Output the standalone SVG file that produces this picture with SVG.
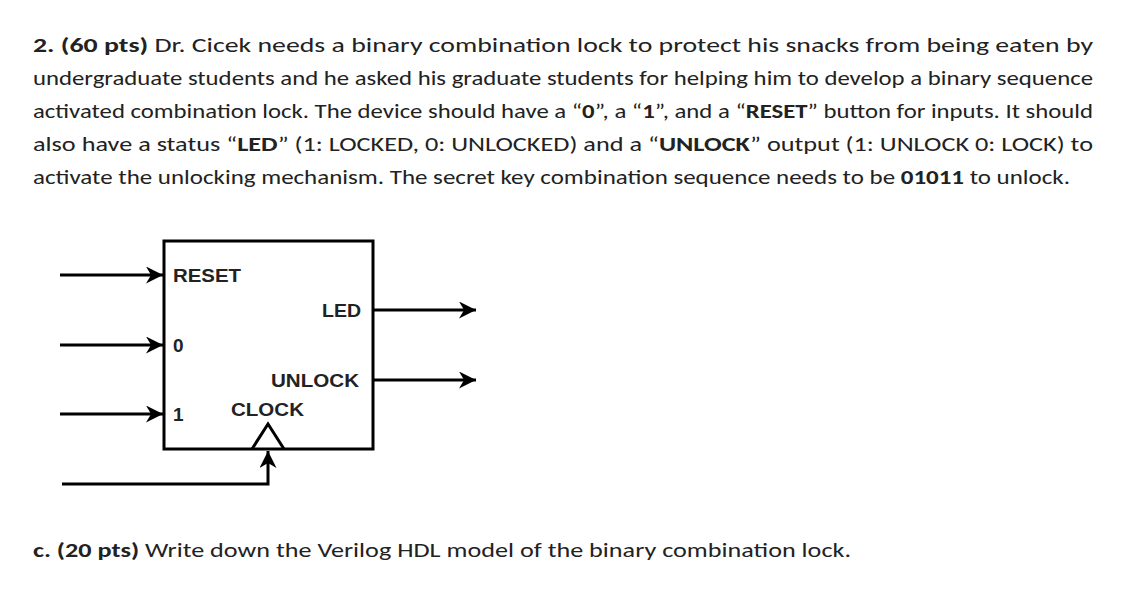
<svg xmlns="http://www.w3.org/2000/svg" width="1126" height="592" viewBox="0 0 1126 592">
<defs>
<marker id="ah" viewBox="0 0 10 10" refX="10" refY="5" markerWidth="17" markerHeight="17" markerUnits="userSpaceOnUse" orient="auto"><path d="M0,0 L10,5 L0,10 L3,5 Z" fill="#000"/></marker>
<style>
.t{font-family:Carlito,"Liberation Sans",sans-serif;font-size:20px;fill:#222}
.b{font-weight:bold}
.d{font-family:"Liberation Sans",Arial,sans-serif;font-size:19px;font-weight:bold;fill:#222}
.w{stroke:#000;stroke-width:3;fill:none}
</style>
</defs>
<rect width="1126" height="592" fill="#fff"/>
<g id="text">
<text class="t" x="33" y="52" textLength="1060" lengthAdjust="spacingAndGlyphs"><tspan class="b">2. (60 pts)</tspan> Dr. Cicek needs a binary combination lock to protect his snacks from being eaten by</text>
<text class="t" x="33" y="85" textLength="1060" lengthAdjust="spacingAndGlyphs">undergraduate students and he asked his graduate students for helping him to develop a binary sequence</text>
<text class="t" x="33" y="118" textLength="1060" lengthAdjust="spacingAndGlyphs">activated combination lock. The device should have a “<tspan class="b">0</tspan>”, a “<tspan class="b">1</tspan>”, and a “<tspan class="b">RESET</tspan>” button for inputs. It should</text>
<text class="t" x="33" y="151" textLength="1060" lengthAdjust="spacingAndGlyphs">also have a status “<tspan class="b">LED</tspan>” (1: LOCKED, 0: UNLOCKED) and a “<tspan class="b">UNLOCK</tspan>” output (1: UNLOCK 0: LOCK) to</text>
<text class="t" x="33" y="184" textLength="1037" lengthAdjust="spacingAndGlyphs">activate the unlocking mechanism. The secret key combination sequence needs to be <tspan class="b">01011</tspan> to unlock.</text>
<text class="t" x="33" y="557" textLength="818" lengthAdjust="spacingAndGlyphs"><tspan class="b">c. (20 pts)</tspan> Write down the Verilog HDL model of the binary combination lock.</text>
</g>
<g id="lock">
<rect class="w" x="164" y="241" width="209" height="208"/>
<text class="d" x="173" y="282" textLength="68" lengthAdjust="spacingAndGlyphs">RESET</text>
<text class="d" x="173" y="352">0</text>
<text class="d" x="173" y="421">1</text>
<text class="d" x="322" y="317" textLength="39" lengthAdjust="spacingAndGlyphs">LED</text>
<text class="d" x="271" y="387" textLength="88" lengthAdjust="spacingAndGlyphs">UNLOCK</text>
<text class="d" x="231" y="416" textLength="73" lengthAdjust="spacingAndGlyphs">CLOCK</text>
<path class="w" d="M252,449 L268,424 L284,449"/>
</g>
<g id="connectors">
<line class="w" x1="60" y1="275" x2="163" y2="275" marker-end="url(#ah)"/>
<line class="w" x1="60" y1="345" x2="163" y2="345" marker-end="url(#ah)"/>
<line class="w" x1="60" y1="414" x2="163" y2="414" marker-end="url(#ah)"/>
<line class="w" x1="373" y1="310" x2="476" y2="310" marker-end="url(#ah)"/>
<line class="w" x1="373" y1="380" x2="476" y2="380" marker-end="url(#ah)"/>
<polyline class="w" points="62,484 268,484 268,451" marker-end="url(#ah)"/>
</g>
</svg>
